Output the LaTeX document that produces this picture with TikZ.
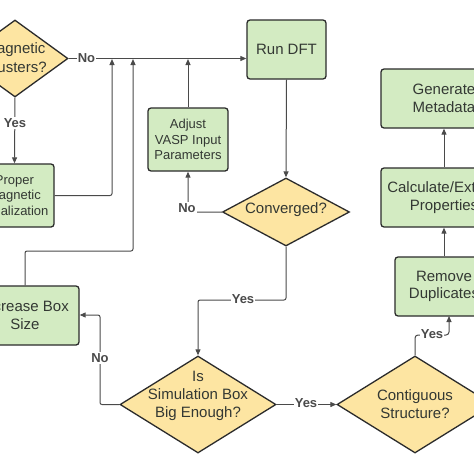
\documentclass[tikz,border=0pt]{standalone}
\usepackage{fontspec}
\setmainfont{Liberation Sans}
\usetikzlibrary{shapes.geometric,arrows.meta}
\definecolor{boxgreen}{HTML}{D3EBC2}
\definecolor{diayellow}{HTML}{FDE5A2}
\definecolor{edgedark}{HTML}{2B2B2B}
\definecolor{txt}{HTML}{333833}
\definecolor{linegray}{HTML}{4A4A4A}
\tikzset{
  procbox/.style={draw=edgedark, line width=1.3pt, fill=boxgreen, rounded corners=3pt,
    minimum height=59pt, inner sep=0pt, align=center, text=txt,
    font=\fontsize{15}{17.7}\selectfont},
  smallbox/.style={procbox, minimum height=63pt, font=\fontsize{13}{15.7}\selectfont},
  decision/.style={diamond, draw=edgedark, line width=1.3pt, fill=diayellow, inner sep=0pt},
  dtext/.style={align=center, text=txt, inner sep=0pt, font=\fontsize{15}{18.3}\selectfont},
  conn/.style={draw=linegray, line width=1pt, -{Triangle[length=6pt,width=5pt]}},
  lbl/.style={fill=white, inner sep=1pt, text=linegray, font=\fontsize{13}{15}\selectfont\bfseries}
}
\begin{document}
\begin{tikzpicture}[x=1pt,y=-1pt]
\useasboundingbox (0,0) rectangle (474,474);
\fill[white] (0,0) rectangle (474,474);
\clip (0,0) rectangle (474,474);

% decisions
\node[decision, minimum width=106pt, minimum height=77pt] (mag) at (15,58.5) {};
\node[dtext] (magT) at (15,57.5) {Magnetic\\Clusters?};
\node[decision, minimum width=127pt, minimum height=68pt] (conv) at (286,212) {};
\node[dtext] (convT) at (286,209.5) {Converged?};
\node[decision, minimum width=156pt, minimum height=97pt] (sim) at (198,404.5) {};
\node[dtext] (simT) at (198,396) {Is\\Simulation Box\\Big Enough?};
\node[decision, minimum width=156pt, minimum height=97pt] (cont) at (415,404.5) {};
\node[dtext] (contT) at (415,404) {Contiguous\\Structure?};

% boxes
\node[procbox, minimum width=79pt] (dft) at (286.5,49.5) {Run DFT};
\node[smallbox, minimum width=80pt] (adj) at (188,139.5) {Adjust\\VASP Input\\Parameters};
\node[smallbox, minimum width=79pt] (prop) at (14.5,195.5) {Proper\\Magnetic\\Initialization};
\node[procbox, minimum width=108pt] (inc) at (25,315.5) {Increase Box\\Size};
\node[procbox, minimum width=98pt] (rem) at (444,286.5) {Remove\\Duplicates};
\node[procbox, minimum width=126pt] (calc) at (444,197.5) {Calculate/Extract\\Properties};
\node[procbox, minimum width=126pt] (gen) at (444,98.5) {Generate\\Metadata};

% helper coordinates
\coordinate (mainA) at (112,59);
\coordinate (mainB) at (133,59);
\coordinate (mainC) at (188,59);

% main line
\draw[conn] (mag.east) -- (dft.west |- mag.east);
\node[lbl] (noMag) at (86.5,58) {No};
\draw[conn] (mag.south) -- (prop.north);
\node[lbl] (yesMag) at (15,123) {Yes};

% proper -> main line
\draw[conn, rounded corners=2pt] (prop.east) -| (mainA);
% increase -> main line
\draw[conn, rounded corners=2pt] (inc.north) |- (133,251) -- (mainB);
% adjust -> main line
\draw[conn] (adj.north) -- (mainC);

% run dft -> converged
\draw[conn] (dft.south) -- (conv.north);
% converged no -> adjust
\draw[conn, rounded corners=2pt] (conv.west) -| (adj.south);
\node[lbl] (noConv) at (187,208) {No};
% converged yes -> sim
\draw[conn, rounded corners=2pt] (conv.south) |- (198,300) -- (sim.north);
\node[lbl] (yesConv) at (243,299) {Yes};
% sim no -> increase
\draw[conn, rounded corners=2pt] (sim.west) -- (100,404.5) |- (inc.east |- 0,315);
\node[lbl] (noSim) at (100,358) {No};
% sim yes -> contiguous
\draw[conn] (sim.east) -- (cont.west);
\node[lbl] (yesSim) at (306,403) {Yes};
% contiguous yes -> remove
\draw[conn, rounded corners=3pt] (cont.north) |- (449,335) -- (449,316);
\node[lbl] (yesCont) at (432,334) {Yes};
% remove -> calc -> gen
\draw[conn] (rem.north) -- (calc.south);
\draw[conn] (calc.north) -- (gen.south);
\end{tikzpicture}
\end{document}
